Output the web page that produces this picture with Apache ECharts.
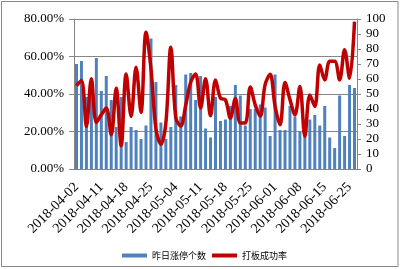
<!DOCTYPE html>
<html><head><meta charset="utf-8">
<script src="https://cdn.jsdelivr.net/npm/echarts@6/dist/echarts.min.js"></script>
<style>html,body{margin:0;padding:0;background:#fff}#c{width:400px;height:269px}</style>
</head><body><div id="c"></div>
<script>
var categories = ['2018-04-02','2018-04-03','2018-04-04','2018-04-09','2018-04-10','2018-04-11','2018-04-12','2018-04-13','2018-04-16','2018-04-17','2018-04-18','2018-04-19','2018-04-20','2018-04-23','2018-04-24','2018-04-25','2018-04-26','2018-04-27',
'2018-05-02','2018-05-03','2018-05-04','2018-05-07','2018-05-08','2018-05-09','2018-05-10','2018-05-11','2018-05-14','2018-05-15','2018-05-16','2018-05-17','2018-05-18','2018-05-21','2018-05-22','2018-05-23','2018-05-24','2018-05-25','2018-05-28','2018-05-29','2018-05-30','2018-05-31',
'2018-06-01','2018-06-04','2018-06-05','2018-06-06','2018-06-07','2018-06-08','2018-06-11','2018-06-12','2018-06-13','2018-06-14','2018-06-15','2018-06-19','2018-06-20','2018-06-21','2018-06-22','2018-06-25','2018-06-26'];
var limitUpCount = [70,72,48,52,74,52,62,46,28,48,18,28,26,20,29,87,58,31,20,28,56,35,63,64,46,62,27,21,48,32,33,42,56,49,29,40,40,43,41,22,63,26,26,42,35,25,33,33,36,29,42,21,14,49,22,56,54];
var successRate = [44.4,47.2,22.7,48.1,24.8,28.9,32.5,18.3,43.1,12.4,50.7,28.0,54.3,30.2,73.0,53.5,21.5,13.2,24.5,65.0,27.4,23.0,34.0,46.3,50.7,32.5,48.2,28.4,47.5,37.8,36.9,27.1,37.6,24.5,24.5,43.8,34.2,28.2,45.1,50.5,33.4,23.6,46.1,37.0,28.9,44.0,17.4,39.5,33.4,55.5,47.5,57.5,57.5,47.5,63.6,48.4,78.6];
var barName = '昨日涨停个数';
var lineName = '打板成功率';

var chart = echarts.init(document.getElementById('c'), null, {renderer:'canvas'});
var axisColor = '#868686';
var txt = {color:'#000', fontFamily:'Liberation Serif', fontSize:13};
chart.setOption({
  animation:false,
  backgroundColor:'#fff',
  graphic:[{type:'rect', shape:{x:1.5,y:1.5,width:396.5,height:265}, style:{fill:'none', stroke:'#888', lineWidth:1}, silent:true}],
  grid:{left:74, top:19, width:283, height:150},
  legend:{
    left:117, top:246, itemWidth:25, itemHeight:4, itemGap:6,
    textStyle:{fontFamily:'Noto Sans CJK SC', fontSize:9, color:'#000'},
    data:[{name:barName, icon:'rect'},{name:lineName, icon:'rect'}]
  },
  xAxis:{
    type:'category', data:categories, boundaryGap:true,
    axisLine:{lineStyle:{color:axisColor}},
    axisTick:{interval:0, length:4, lineStyle:{color:axisColor}},
    axisLabel:{interval:4, rotate:45, margin:16, color:'#000', fontFamily:'Liberation Serif', fontSize:14}
  },
  yAxis:[
    {type:'value', min:0, max:80, interval:20,
     axisLine:{show:true, lineStyle:{color:axisColor}},
     axisTick:{show:true, length:5, lineStyle:{color:axisColor}},
     splitLine:{show:true, lineStyle:{color:axisColor}},
     axisLabel:Object.assign({margin:10, formatter:function(v){return v.toFixed(2)+'%';}}, txt)},
    {type:'value', min:0, max:100, interval:10, position:'right',
     axisLine:{show:true, lineStyle:{color:axisColor}},
     axisTick:{show:true, length:4, lineStyle:{color:axisColor}},
     splitLine:{show:false},
     axisLabel:Object.assign({margin:9}, txt)}
  ],
  series:[
    {name:barName, type:'bar', yAxisIndex:1, data:limitUpCount, barWidth:3, itemStyle:{color:'#4F81BD'}, z:2},
    {name:lineName, type:'line', yAxisIndex:0, data:successRate, smooth:0.35, symbol:'none', lineStyle:{color:'#C00000', width:3.5}, itemStyle:{color:'#C00000'}, z:3}
  ]
});
</script></body></html>
